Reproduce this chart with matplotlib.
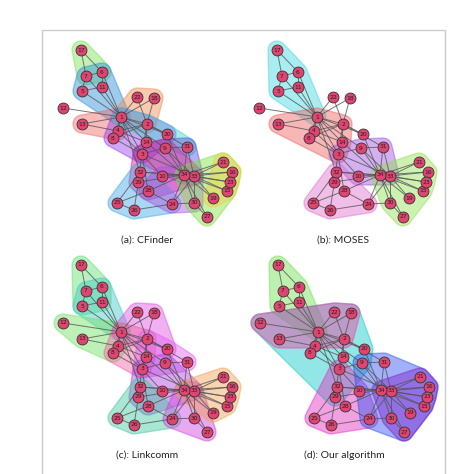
import numpy as np
import matplotlib
matplotlib.use("Agg")
import matplotlib.pyplot as plt

# node positions (pixels, panel a frame)
node_ids = list(range(1, 35))
pos_x = [121,147,142,118,82,102,86,113,165,162,102,63,82,146,227,232,81,154,213,167,223,137,230,172,117,134,207,148,138,194,187,140,194,184]
pos_y = [117,124,154,131,91,72,76,138,148,176,87,108,124,142,191,172,50,98,198,134,162,97,182,204,203,210,217,191,182,203,147,172,176,175]

edges = [(1,2),(1,3),(1,4),(1,5),(1,6),(1,7),(1,8),(1,9),(1,11),(1,12),(1,13),(1,14),(1,18),(1,20),(1,22),(1,32),
         (2,3),(2,4),(2,8),(2,14),(2,18),(2,20),(2,22),(2,31),(3,4),(3,8),(3,9),(3,10),(3,14),(3,28),(3,29),(3,33),
         (4,8),(4,13),(4,14),(5,7),(5,11),(6,7),(6,11),(6,17),(7,17),(9,31),(9,33),(9,34),(10,34),(14,34),(15,33),(15,34),
         (16,33),(16,34),(19,33),(19,34),(20,34),(21,33),(21,34),(23,33),(23,34),(24,26),(24,28),(24,30),(24,33),(24,34),
         (25,26),(25,28),(25,32),(26,32),(27,30),(27,34),(28,34),(29,32),(29,34),(30,33),(30,34),(31,33),(31,34),(32,33),(32,34),(33,34)]

offsets = {"a": (0, 0), "b": (196, 0), "c": (0, 215), "d": (197, 215)}
labels = {"a": "(a): CFinder", "b": "(b): MOSES", "c": "(c): Linkcomm", "d": "(d): Our algorithm"}

comms = {
 "a": [([17,6,7],"#7be05a"),([1,5,6,7,11],"#2a8fd8"),([1,22,18,2],"#f08a50"),([1,13,4],"#f06a6a"),
       ([1,2,3,4,8,14,20],"#9b3cf0"),([1,2,20,31],"#40d8d0"),([9,31,33,34,3],"#5a50e0"),
       ([3,9,10,32,33,34,28,29],"#e02090"),([25,26,32,29,28,24],"#40a8e8"),([24,28,30,34,33,10],"#b050e0"),
       ([33,34,21,16,23,15,19,27,30],"#80e040"),([21,16,23,15,19],"#f0d040")],
 "b": [([17,6,7,5,11,1],"#40d8e0"),([1,2,3,4,8,14,13],"#f06060"),([3,9,31,33,34,10],"#a050e0"),
       ([15,16,19,21,23,27,30,33,34],"#90e050"),([32,29,25,26,24,28],"#e070d0")],
 "c": [([17,6,7,5,11],"#60e070"),([1,5,6,7,11],"#40c8c8"),([1,12,13,4,8],"#70e060"),([1,2,22,18,20],"#e050e0"),
       ([1,2,3,4,8,14],"#f060a0"),([2,3,14,9,31,20],"#e060f0"),([3,9,10,28,29,32,33,34],"#b040e0"),
       ([25,26,32,29,24,28],"#40c8a0"),([30,33,34,24,27],"#d040e0"),([15,16,19,21,23,33,34],"#f0a050")],
 "d": [([17,6,7,5,11,1],"#70e050"),([12,13,1,2,4,8,14,3,9,20,22,18,32,29],"#10c8c8"),
       ([3,10,28,29,32,24,26,25],"#e030c0"),([33,34,15,16,19,21,23,31,30,27,24,9],"#3050f0"),
       ([33,34,15,16,19,21,23,27,30],"#8020d0"),([1,2,22,18,13,12],"#f040a0")],
}

def hull(pts):
    pts = sorted(map(tuple, pts))
    def cross(o, a, b):
        return (a[0]-o[0])*(b[1]-o[1])-(a[1]-o[1])*(b[0]-o[0])
    lo, up = [], []
    for p in pts:
        while len(lo) >= 2 and cross(lo[-2], lo[-1], p) <= 0: lo.pop()
        lo.append(p)
    for p in reversed(pts):
        while len(up) >= 2 and cross(up[-2], up[-1], p) <= 0: up.pop()
        up.append(p)
    return np.array(lo[:-1] + up[:-1])

fig = plt.figure(figsize=(4.74, 4.74), dpi=100)
ax = fig.add_axes([0, 0, 1, 1])
ax.set_xlim(0, 474); ax.set_ylim(474, 0); ax.axis("off")
ax.add_patch(plt.Rectangle((42, 30), 403, 450, fill=False, ec="#cccccc", lw=1))

px = np.array(pos_x, float); py = np.array(pos_y, float)
ang = np.linspace(0, 2*np.pi, 24, endpoint=False)
for key, (dx, dy) in offsets.items():
    X = px + dx; Y = py + dy
    for members, col in comms[key]:
        pts = []
        for m in members:
            for a in ang:
                pts.append((X[m-1] + 9*np.cos(a), Y[m-1] + 9*np.sin(a)))
        h = hull(pts)
        ax.fill(h[:, 0], h[:, 1], color=col, alpha=0.45, lw=1, ec=col, zorder=1)
    for a, b in edges:
        ax.plot([X[a-1], X[b-1]], [Y[a-1], Y[b-1]], color="#555555", lw=0.7, alpha=0.8, zorder=2)
    ax.scatter(X, Y, s=62, c="#e04470", edgecolors="#333333", linewidths=0.6, zorder=3)
    for i, n in enumerate(node_ids):
        ax.text(X[i], Y[i], str(n), fontsize=4.3, ha="center", va="center", color="#222222", zorder=4)
    ax.text(np.mean([63, 232]) + dx, 240 + dy, labels[key], fontsize=7.5, family="Lato",
            ha="center", va="center", color="#222222")

fig.savefig("out.png", dpi=100)
